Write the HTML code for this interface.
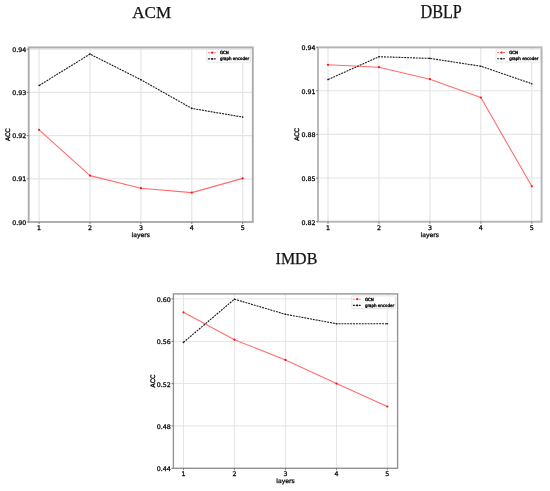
<!DOCTYPE html>
<html><head><meta charset="utf-8"><title>Layers vs ACC</title>
<style>html,body{margin:0;padding:0;background:#fff;}svg{display:block;}</style>
</head><body>
<svg width="550" height="491" viewBox="0 0 550 491">
<rect width="550" height="491" fill="#fff"/>
<g><text x="132.3" y="17.55" font-family='"Liberation Serif", serif' font-size="17.7" textLength="38.9" lengthAdjust="spacingAndGlyphs" fill="#141414" stroke="#141414" stroke-width="0.25">ACM</text>
<line x1="39.1" y1="47.4" x2="39.1" y2="222" stroke="#e5e5e5" stroke-width="1.2"/>
<line x1="90" y1="47.4" x2="90" y2="222" stroke="#e5e5e5" stroke-width="1.2"/>
<line x1="140.9" y1="47.4" x2="140.9" y2="222" stroke="#e5e5e5" stroke-width="1.2"/>
<line x1="191.8" y1="47.4" x2="191.8" y2="222" stroke="#e5e5e5" stroke-width="1.2"/>
<line x1="242.7" y1="47.4" x2="242.7" y2="222" stroke="#e5e5e5" stroke-width="1.2"/>
<line x1="28.7" y1="222" x2="252.8" y2="222" stroke="#e5e5e5" stroke-width="1.2"/>
<line x1="28.7" y1="178.8" x2="252.8" y2="178.8" stroke="#e5e5e5" stroke-width="1.2"/>
<line x1="28.7" y1="135.6" x2="252.8" y2="135.6" stroke="#e5e5e5" stroke-width="1.2"/>
<line x1="28.7" y1="92.4" x2="252.8" y2="92.4" stroke="#e5e5e5" stroke-width="1.2"/>
<line x1="28.7" y1="49.2" x2="252.8" y2="49.2" stroke="#e5e5e5" stroke-width="1.2"/>
<polyline points="39.1,129.8 90,175.6 140.9,188.2 191.8,192.6 242.7,178.4" fill="none" stroke="#ff6e6e" stroke-width="1.1" stroke-linejoin="round"/>
<circle cx="39.1" cy="129.8" r="1.1" fill="#ff1010"/>
<circle cx="90" cy="175.6" r="1.1" fill="#ff1010"/>
<circle cx="140.9" cy="188.2" r="1.1" fill="#ff1010"/>
<circle cx="191.8" cy="192.6" r="1.1" fill="#ff1010"/>
<circle cx="242.7" cy="178.4" r="1.1" fill="#ff1010"/>
<polyline points="39.1,85.5 90,54.1 140.9,79.7 191.8,108.4 242.7,117.1" fill="none" stroke="#1a1a1a" stroke-width="1.1" stroke-dasharray="1.95 0.95" stroke-linejoin="round"/>
<circle cx="39.1" cy="85.5" r="0.8" fill="#1a1a1a"/>
<circle cx="90" cy="54.1" r="0.8" fill="#1a1a1a"/>
<circle cx="140.9" cy="79.7" r="0.8" fill="#1a1a1a"/>
<circle cx="191.8" cy="108.4" r="0.8" fill="#1a1a1a"/>
<circle cx="242.7" cy="117.1" r="0.8" fill="#1a1a1a"/>
<rect x="206.8" y="49.4" width="43.6" height="12.8" rx="0.8" fill="#fff" stroke="#dedede" stroke-width="0.7"/>
<line x1="207.9" y1="52.7" x2="216.6" y2="52.7" stroke="#ff6e6e" stroke-width="1" stroke-dasharray="1.95 0.95"/>
<circle cx="212.25" cy="52.7" r="1.1" fill="#ff1010"/>
<line x1="207.9" y1="58.9" x2="216.6" y2="58.9" stroke="#1a1a1a" stroke-width="1.1" stroke-dasharray="1.95 0.95"/>
<circle cx="212.25" cy="58.9" r="0.9" fill="#1a1a1a"/>
<g font-family='"DejaVu Sans", "Liberation Sans", sans-serif' fill="#111" stroke="#111" stroke-width="0.38">
<text x="219.9" y="54.15" font-size="4.3" textLength="8.9" lengthAdjust="spacingAndGlyphs">GCN</text>
<text x="219.9" y="60.35" font-size="4.3" textLength="29.2" lengthAdjust="spacingAndGlyphs">graph encoder</text>
</g>
<rect x="28.7" y="47.4" width="224.1" height="174.6" fill="none" stroke="#acacac" stroke-width="1.9"/>
<line x1="39.1" y1="222" x2="39.1" y2="224" stroke="#555" stroke-width="0.7"/>
<line x1="90" y1="222" x2="90" y2="224" stroke="#555" stroke-width="0.7"/>
<line x1="140.9" y1="222" x2="140.9" y2="224" stroke="#555" stroke-width="0.7"/>
<line x1="191.8" y1="222" x2="191.8" y2="224" stroke="#555" stroke-width="0.7"/>
<line x1="242.7" y1="222" x2="242.7" y2="224" stroke="#555" stroke-width="0.7"/>
<line x1="26.7" y1="222" x2="28.7" y2="222" stroke="#555" stroke-width="0.7"/>
<line x1="26.7" y1="178.8" x2="28.7" y2="178.8" stroke="#555" stroke-width="0.7"/>
<line x1="26.7" y1="135.6" x2="28.7" y2="135.6" stroke="#555" stroke-width="0.7"/>
<line x1="26.7" y1="92.4" x2="28.7" y2="92.4" stroke="#555" stroke-width="0.7"/>
<line x1="26.7" y1="49.2" x2="28.7" y2="49.2" stroke="#555" stroke-width="0.7"/>
<g font-family='"DejaVu Sans", "Liberation Sans", sans-serif' fill="#111" stroke="#111" stroke-width="0.32">
<text x="39.1" y="230.2" font-size="6.3" text-anchor="middle">1</text>
<text x="90" y="230.2" font-size="6.3" text-anchor="middle">2</text>
<text x="140.9" y="230.2" font-size="6.3" text-anchor="middle">3</text>
<text x="191.8" y="230.2" font-size="6.3" text-anchor="middle">4</text>
<text x="242.7" y="230.2" font-size="6.3" text-anchor="middle">5</text>
<text x="26.2" y="224.6" font-size="6.3" text-anchor="end">0.90</text>
<text x="26.2" y="181.4" font-size="6.3" text-anchor="end">0.91</text>
<text x="26.2" y="138.2" font-size="6.3" text-anchor="end">0.92</text>
<text x="26.2" y="95" font-size="6.3" text-anchor="end">0.93</text>
<text x="26.2" y="51.8" font-size="6.3" text-anchor="end">0.94</text>
<text x="140.75" y="236.8" font-size="6.1" text-anchor="middle">layers</text>
<text transform="translate(9.8,134.7) rotate(-90)" font-size="6.1" text-anchor="middle" stroke-width="0.42">ACC</text>
</g></g>
<g><text x="420.5" y="17.6" font-family='"Liberation Serif", serif' font-size="17.9" textLength="41.3" lengthAdjust="spacingAndGlyphs" fill="#141414" stroke="#141414" stroke-width="0.25">DBLP</text>
<line x1="328" y1="47.4" x2="328" y2="221.7" stroke="#e5e5e5" stroke-width="1.2"/>
<line x1="378.95" y1="47.4" x2="378.95" y2="221.7" stroke="#e5e5e5" stroke-width="1.2"/>
<line x1="429.9" y1="47.4" x2="429.9" y2="221.7" stroke="#e5e5e5" stroke-width="1.2"/>
<line x1="480.85" y1="47.4" x2="480.85" y2="221.7" stroke="#e5e5e5" stroke-width="1.2"/>
<line x1="531.8" y1="47.4" x2="531.8" y2="221.7" stroke="#e5e5e5" stroke-width="1.2"/>
<line x1="318" y1="221.7" x2="541.6" y2="221.7" stroke="#e5e5e5" stroke-width="1.2"/>
<line x1="318" y1="178" x2="541.6" y2="178" stroke="#e5e5e5" stroke-width="1.2"/>
<line x1="318" y1="134.4" x2="541.6" y2="134.4" stroke="#e5e5e5" stroke-width="1.2"/>
<line x1="318" y1="90.75" x2="541.6" y2="90.75" stroke="#e5e5e5" stroke-width="1.2"/>
<line x1="318" y1="47.4" x2="541.6" y2="47.4" stroke="#e5e5e5" stroke-width="1.2"/>
<polyline points="328,64.8 378.95,67.2 429.9,79.2 480.85,97.5 531.8,186.3" fill="none" stroke="#ff6e6e" stroke-width="1.1" stroke-linejoin="round"/>
<circle cx="328" cy="64.8" r="1.1" fill="#ff1010"/>
<circle cx="378.95" cy="67.2" r="1.1" fill="#ff1010"/>
<circle cx="429.9" cy="79.2" r="1.1" fill="#ff1010"/>
<circle cx="480.85" cy="97.5" r="1.1" fill="#ff1010"/>
<circle cx="531.8" cy="186.3" r="1.1" fill="#ff1010"/>
<polyline points="328,79.6 378.95,56.7 429.9,58.4 480.85,66.2 531.8,83.7" fill="none" stroke="#1a1a1a" stroke-width="1.1" stroke-dasharray="1.95 0.95" stroke-linejoin="round"/>
<circle cx="328" cy="79.6" r="0.8" fill="#1a1a1a"/>
<circle cx="378.95" cy="56.7" r="0.8" fill="#1a1a1a"/>
<circle cx="429.9" cy="58.4" r="0.8" fill="#1a1a1a"/>
<circle cx="480.85" cy="66.2" r="0.8" fill="#1a1a1a"/>
<circle cx="531.8" cy="83.7" r="0.8" fill="#1a1a1a"/>
<rect x="496.1" y="49.2" width="44.4" height="12.9" rx="0.8" fill="#fff" stroke="#dedede" stroke-width="0.7"/>
<line x1="497.2" y1="52.5" x2="505.9" y2="52.5" stroke="#ff6e6e" stroke-width="1" stroke-dasharray="1.95 0.95"/>
<circle cx="501.55" cy="52.5" r="1.1" fill="#ff1010"/>
<line x1="497.2" y1="58.7" x2="505.9" y2="58.7" stroke="#1a1a1a" stroke-width="1.1" stroke-dasharray="1.95 0.95"/>
<circle cx="501.55" cy="58.7" r="0.9" fill="#1a1a1a"/>
<g font-family='"DejaVu Sans", "Liberation Sans", sans-serif' fill="#111" stroke="#111" stroke-width="0.38">
<text x="509.2" y="53.95" font-size="4.3" textLength="8.9" lengthAdjust="spacingAndGlyphs">GCN</text>
<text x="509.2" y="60.15" font-size="4.3" textLength="29.2" lengthAdjust="spacingAndGlyphs">graph encoder</text>
</g>
<rect x="318" y="47.4" width="223.6" height="174.3" fill="none" stroke="#b6b6b6" stroke-width="1.9"/>
<line x1="328" y1="221.7" x2="328" y2="223.7" stroke="#555" stroke-width="0.7"/>
<line x1="378.95" y1="221.7" x2="378.95" y2="223.7" stroke="#555" stroke-width="0.7"/>
<line x1="429.9" y1="221.7" x2="429.9" y2="223.7" stroke="#555" stroke-width="0.7"/>
<line x1="480.85" y1="221.7" x2="480.85" y2="223.7" stroke="#555" stroke-width="0.7"/>
<line x1="531.8" y1="221.7" x2="531.8" y2="223.7" stroke="#555" stroke-width="0.7"/>
<line x1="316" y1="221.7" x2="318" y2="221.7" stroke="#555" stroke-width="0.7"/>
<line x1="316" y1="178" x2="318" y2="178" stroke="#555" stroke-width="0.7"/>
<line x1="316" y1="134.4" x2="318" y2="134.4" stroke="#555" stroke-width="0.7"/>
<line x1="316" y1="90.75" x2="318" y2="90.75" stroke="#555" stroke-width="0.7"/>
<line x1="316" y1="47.4" x2="318" y2="47.4" stroke="#555" stroke-width="0.7"/>
<g font-family='"DejaVu Sans", "Liberation Sans", sans-serif' fill="#111" stroke="#111" stroke-width="0.32">
<text x="328" y="229.9" font-size="6.3" text-anchor="middle">1</text>
<text x="378.95" y="229.9" font-size="6.3" text-anchor="middle">2</text>
<text x="429.9" y="229.9" font-size="6.3" text-anchor="middle">3</text>
<text x="480.85" y="229.9" font-size="6.3" text-anchor="middle">4</text>
<text x="531.8" y="229.9" font-size="6.3" text-anchor="middle">5</text>
<text x="315.5" y="224.7" font-size="6.3" text-anchor="end">0.82</text>
<text x="315.5" y="181" font-size="6.3" text-anchor="end">0.85</text>
<text x="315.5" y="137.4" font-size="6.3" text-anchor="end">0.88</text>
<text x="315.5" y="93.75" font-size="6.3" text-anchor="end">0.91</text>
<text x="315.5" y="50.4" font-size="6.3" text-anchor="end">0.94</text>
<text x="429.8" y="236.5" font-size="6.1" text-anchor="middle">layers</text>
<text transform="translate(299.4,134.55) rotate(-90)" font-size="6.1" text-anchor="middle" stroke-width="0.42">ACC</text>
</g></g>
<g><text x="275.6" y="263.8" font-family='"Liberation Serif", serif' font-size="16.8" textLength="41.7" lengthAdjust="spacingAndGlyphs" fill="#141414" stroke="#141414" stroke-width="0.25">IMDB</text>
<line x1="183.45" y1="293.9" x2="183.45" y2="468.3" stroke="#e5e5e5" stroke-width="1.0"/>
<line x1="234.45" y1="293.9" x2="234.45" y2="468.3" stroke="#e5e5e5" stroke-width="1.0"/>
<line x1="285.45" y1="293.9" x2="285.45" y2="468.3" stroke="#e5e5e5" stroke-width="1.0"/>
<line x1="336.45" y1="293.9" x2="336.45" y2="468.3" stroke="#e5e5e5" stroke-width="1.0"/>
<line x1="387.3" y1="293.9" x2="387.3" y2="468.3" stroke="#e5e5e5" stroke-width="1.0"/>
<line x1="173.4" y1="468.3" x2="397.6" y2="468.3" stroke="#e5e5e5" stroke-width="1.0"/>
<line x1="173.4" y1="425.9" x2="397.6" y2="425.9" stroke="#e5e5e5" stroke-width="1.0"/>
<line x1="173.4" y1="383.6" x2="397.6" y2="383.6" stroke="#e5e5e5" stroke-width="1.0"/>
<line x1="173.4" y1="341.4" x2="397.6" y2="341.4" stroke="#e5e5e5" stroke-width="1.0"/>
<line x1="173.4" y1="298.85" x2="397.6" y2="298.85" stroke="#e5e5e5" stroke-width="1.0"/>
<polyline points="183.45,312.3 234.45,339.7 285.45,359.9 336.45,383.6 387.3,406.5" fill="none" stroke="#ff6e6e" stroke-width="1.1" stroke-linejoin="round"/>
<circle cx="183.45" cy="312.3" r="1.1" fill="#ff1010"/>
<circle cx="234.45" cy="339.7" r="1.1" fill="#ff1010"/>
<circle cx="285.45" cy="359.9" r="1.1" fill="#ff1010"/>
<circle cx="336.45" cy="383.6" r="1.1" fill="#ff1010"/>
<circle cx="387.3" cy="406.5" r="1.1" fill="#ff1010"/>
<polyline points="183.45,342.4 234.45,299.2 285.45,314.3 336.45,323.7 387.3,323.7" fill="none" stroke="#1a1a1a" stroke-width="1.1" stroke-dasharray="1.95 0.95" stroke-linejoin="round"/>
<circle cx="183.45" cy="342.4" r="0.8" fill="#1a1a1a"/>
<circle cx="234.45" cy="299.2" r="0.8" fill="#1a1a1a"/>
<circle cx="285.45" cy="314.3" r="0.8" fill="#1a1a1a"/>
<circle cx="336.45" cy="323.7" r="0.8" fill="#1a1a1a"/>
<circle cx="387.3" cy="323.7" r="0.8" fill="#1a1a1a"/>
<rect x="351.8" y="295.9" width="43.6" height="12.7" rx="0.8" fill="#fff" stroke="#dedede" stroke-width="0.7"/>
<line x1="352.9" y1="299.2" x2="361.6" y2="299.2" stroke="#ff6e6e" stroke-width="1" stroke-dasharray="1.95 0.95"/>
<circle cx="357.25" cy="299.2" r="1.1" fill="#ff1010"/>
<line x1="352.9" y1="305.4" x2="361.6" y2="305.4" stroke="#1a1a1a" stroke-width="1.1" stroke-dasharray="1.95 0.95"/>
<circle cx="357.25" cy="305.4" r="0.9" fill="#1a1a1a"/>
<g font-family='"DejaVu Sans", "Liberation Sans", sans-serif' fill="#111" stroke="#111" stroke-width="0.38">
<text x="364.9" y="300.65" font-size="4.3" textLength="8.9" lengthAdjust="spacingAndGlyphs">GCN</text>
<text x="364.9" y="306.85" font-size="4.3" textLength="29.2" lengthAdjust="spacingAndGlyphs">graph encoder</text>
</g>
<rect x="173.4" y="293.9" width="224.2" height="174.4" fill="none" stroke="#929292" stroke-width="1.35"/>
<line x1="183.45" y1="468.3" x2="183.45" y2="470.3" stroke="#555" stroke-width="0.7"/>
<line x1="234.45" y1="468.3" x2="234.45" y2="470.3" stroke="#555" stroke-width="0.7"/>
<line x1="285.45" y1="468.3" x2="285.45" y2="470.3" stroke="#555" stroke-width="0.7"/>
<line x1="336.45" y1="468.3" x2="336.45" y2="470.3" stroke="#555" stroke-width="0.7"/>
<line x1="387.3" y1="468.3" x2="387.3" y2="470.3" stroke="#555" stroke-width="0.7"/>
<line x1="171.4" y1="468.3" x2="173.4" y2="468.3" stroke="#555" stroke-width="0.7"/>
<line x1="171.4" y1="425.9" x2="173.4" y2="425.9" stroke="#555" stroke-width="0.7"/>
<line x1="171.4" y1="383.6" x2="173.4" y2="383.6" stroke="#555" stroke-width="0.7"/>
<line x1="171.4" y1="341.4" x2="173.4" y2="341.4" stroke="#555" stroke-width="0.7"/>
<line x1="171.4" y1="298.85" x2="173.4" y2="298.85" stroke="#555" stroke-width="0.7"/>
<g font-family='"DejaVu Sans", "Liberation Sans", sans-serif' fill="#111" stroke="#111" stroke-width="0.32">
<text x="183.45" y="475.7" font-size="6.3" text-anchor="middle">1</text>
<text x="234.45" y="475.7" font-size="6.3" text-anchor="middle">2</text>
<text x="285.45" y="475.7" font-size="6.3" text-anchor="middle">3</text>
<text x="336.45" y="475.7" font-size="6.3" text-anchor="middle">4</text>
<text x="387.3" y="475.7" font-size="6.3" text-anchor="middle">5</text>
<text x="170.9" y="471.3" font-size="6.3" text-anchor="end">0.44</text>
<text x="170.9" y="428.9" font-size="6.3" text-anchor="end">0.48</text>
<text x="170.9" y="386.6" font-size="6.3" text-anchor="end">0.52</text>
<text x="170.9" y="344.4" font-size="6.3" text-anchor="end">0.56</text>
<text x="170.9" y="301.85" font-size="6.3" text-anchor="end">0.60</text>
<text x="285.5" y="483.1" font-size="6.1" text-anchor="middle">layers</text>
<text transform="translate(154.8,381.1) rotate(-90)" font-size="6.1" text-anchor="middle" stroke-width="0.42">ACC</text>
</g></g>
</svg>
</body></html>
